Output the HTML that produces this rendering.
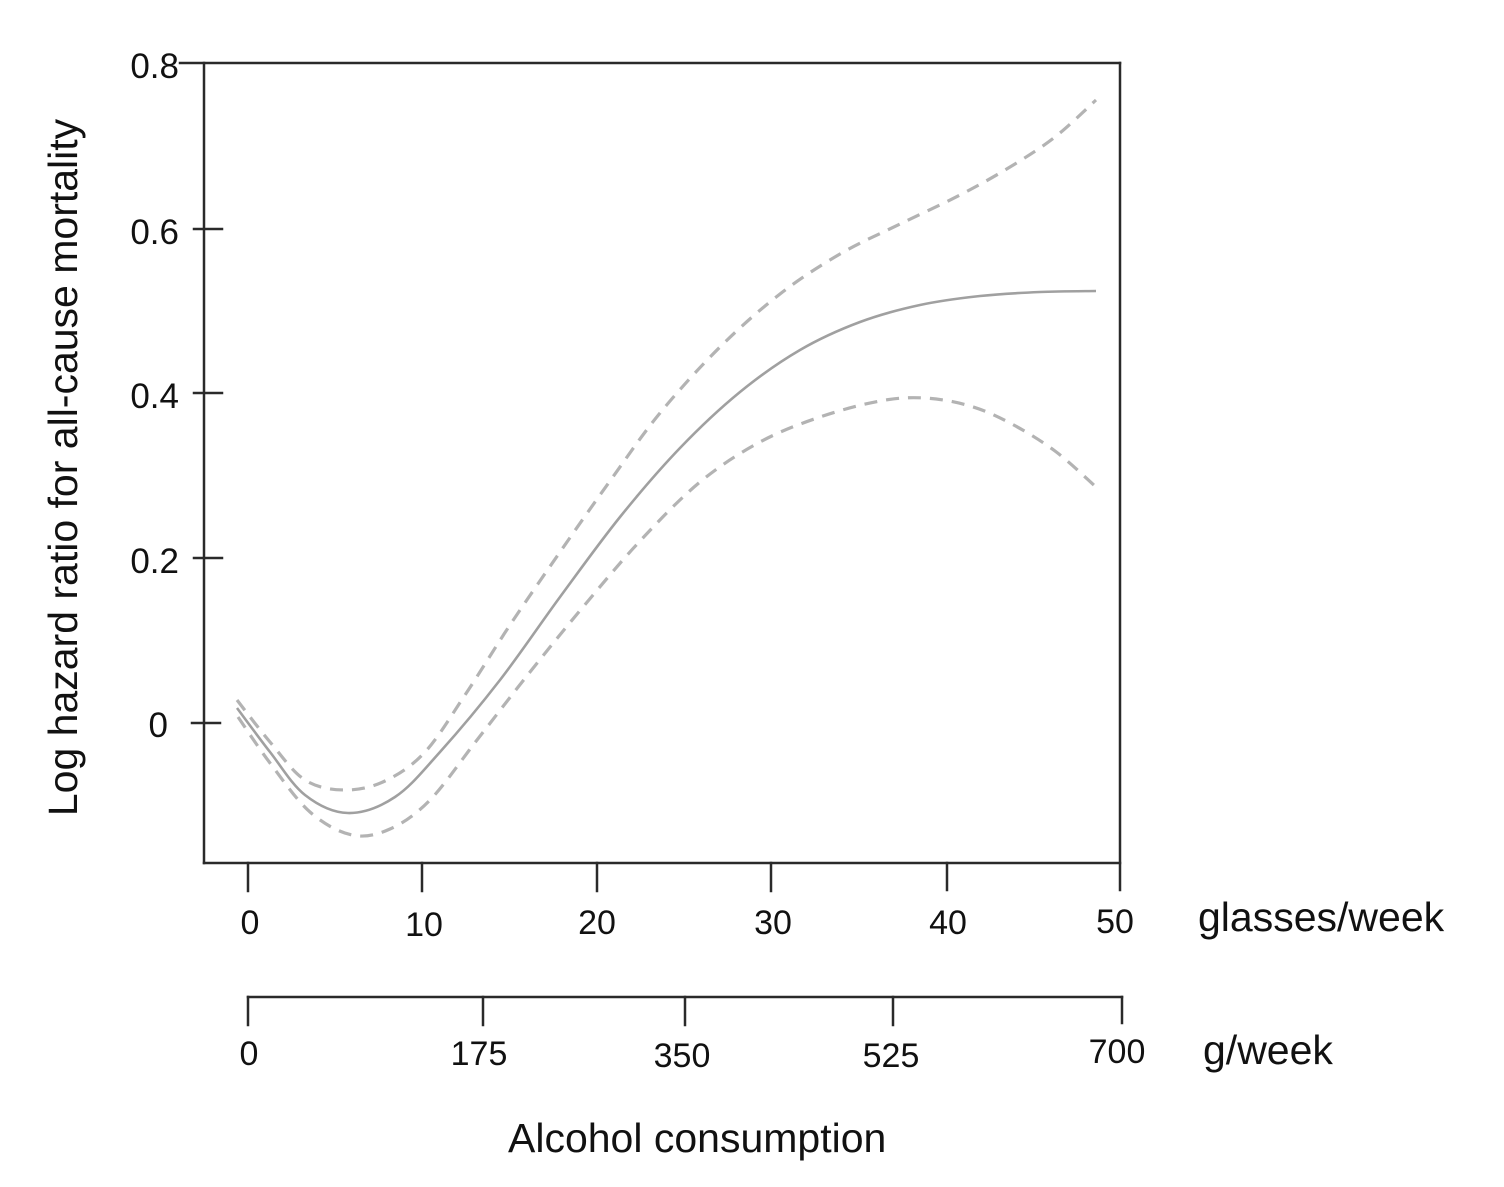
<!DOCTYPE html>
<html>
<head>
<meta charset="utf-8">
<style>
  html, body { margin:0; padding:0; background:#ffffff; }
  body { width:1504px; height:1187px; overflow:hidden; }
  svg { display:block; }
  text { font-family: "Liberation Sans", Arial, sans-serif; fill:#111; }
</style>
</head>
<body>
<svg width="1504" height="1187" viewBox="0 0 1504 1187" xmlns="http://www.w3.org/2000/svg">
  <rect x="0" y="0" width="1504" height="1187" fill="#ffffff"/>

  <!-- plot box -->
  <g stroke="#2a2a2a" stroke-width="2.5" fill="none" stroke-linecap="square">
    <line x1="180" y1="63" x2="1120" y2="63"/>
    <line x1="204" y1="63" x2="204" y2="863"/>
    <line x1="204" y1="863" x2="1120" y2="863"/>
    <line x1="1120" y1="63" x2="1120" y2="890"/>
    <!-- y ticks -->
    <line x1="194" y1="229" x2="222" y2="229"/>
    <line x1="194" y1="393" x2="222" y2="393"/>
    <line x1="194" y1="558" x2="222" y2="558"/>
    <line x1="192" y1="723" x2="220" y2="723"/>
    <!-- x ticks -->
    <line x1="248" y1="863" x2="248" y2="891"/>
    <line x1="422" y1="863" x2="422" y2="891"/>
    <line x1="597" y1="863" x2="597" y2="891"/>
    <line x1="771" y1="863" x2="771" y2="891"/>
    <line x1="947" y1="863" x2="947" y2="890"/>
    <!-- second axis -->
    <line x1="248" y1="997" x2="1122" y2="997"/>
    <line x1="248" y1="997" x2="248" y2="1025"/>
    <line x1="483" y1="997" x2="483" y2="1025"/>
    <line x1="685" y1="997" x2="685" y2="1025"/>
    <line x1="893" y1="997" x2="893" y2="1025"/>
    <line x1="1122" y1="997" x2="1122" y2="1023"/>
  </g>

  <!-- curves -->
  <path id="upper" fill="none" stroke="#b3b3b3" stroke-width="3.2" stroke-dasharray="13 9"
    d="M237,700 L270,742 L305,780 L345,790 L385,781 L425,752 L465,695 L510,625 L560,552 L610,481 L660,413 L720,347 L780,294 L840,254 L900,224 L960,195 L1010,167 L1055,137 L1096,100"/>
  <path id="lower" fill="none" stroke="#b3b3b3" stroke-width="3.2" stroke-dasharray="13 9"
    d="M238,717 L270,763 L310,812 L352,835 L390,829 L430,800 L477,740 L530,672 L583,607 L640,541 L700,482 L760,442 L820,417 L880,401 L925,398 L970,406 L1010,423 L1055,451 L1096,487"/>
  <path id="solid" fill="none" stroke="#a0a0a0" stroke-width="2.6"
    d="M237,708 L270,752 L305,795 L348,813 L395,797 L440,752 L500,680 L560,597 L620,517 L680,448 L740,392 L800,350 L860,322 L920,305 L980,296 L1040,292 L1096,291"/>

  <!-- y tick labels -->
  <g font-size="35" text-anchor="end">
    <text x="179" y="78">0.8</text>
    <text x="179" y="244">0.6</text>
    <text x="179" y="408">0.4</text>
    <text x="179" y="573">0.2</text>
    <text x="168" y="737">0</text>
  </g>

  <!-- x tick labels (glasses) -->
  <g font-size="34" text-anchor="middle">
    <text x="250" y="934">0</text>
    <text x="424" y="936">10</text>
    <text x="597" y="934">20</text>
    <text x="773" y="934">30</text>
    <text x="948" y="934">40</text>
    <text x="1115" y="933">50</text>
  </g>

  <!-- second axis labels -->
  <g font-size="34" text-anchor="middle">
    <text x="249" y="1065">0</text>
    <text x="479" y="1065">175</text>
    <text x="682" y="1067">350</text>
    <text x="891" y="1067">525</text>
    <text x="1117" y="1063">700</text>
  </g>

  <!-- unit labels -->
  <text x="1198" y="931" font-size="41">glasses/week</text>
  <text x="1203" y="1064" font-size="41">g/week</text>
  <text x="508" y="1152" font-size="41">Alcohol consumption</text>

  <!-- y axis title -->
  <text transform="translate(77,467.5) rotate(-90)" text-anchor="middle" font-size="41">Log hazard ratio for all-cause mortality</text>
</svg>
<script>
(function(){
  function smooth(id){
    var el=document.getElementById(id);
    var d=el.getAttribute('d');
    var nums=d.replace(/[ML]/g,' ').trim().split(/[\s,]+/).map(Number);
    var p=[];
    for(var i=0;i<nums.length;i+=2)p.push([nums[i],nums[i+1]]);
    var out='M'+p[0][0]+','+p[0][1];
    for(var i=0;i<p.length-1;i++){
      var p0=p[i-1]||p[i], p1=p[i], p2=p[i+1], p3=p[i+2]||p[i+1];
      var c1x=p1[0]+(p2[0]-p0[0])/6, c1y=p1[1]+(p2[1]-p0[1])/6;
      var c2x=p2[0]-(p3[0]-p1[0])/6, c2y=p2[1]-(p3[1]-p1[1])/6;
      out+=' C'+c1x.toFixed(2)+','+c1y.toFixed(2)+' '+c2x.toFixed(2)+','+c2y.toFixed(2)+' '+p2[0]+','+p2[1];
    }
    el.setAttribute('d',out);
  }
  smooth('upper');smooth('lower');smooth('solid');
})();
</script>
</body>
</html>
